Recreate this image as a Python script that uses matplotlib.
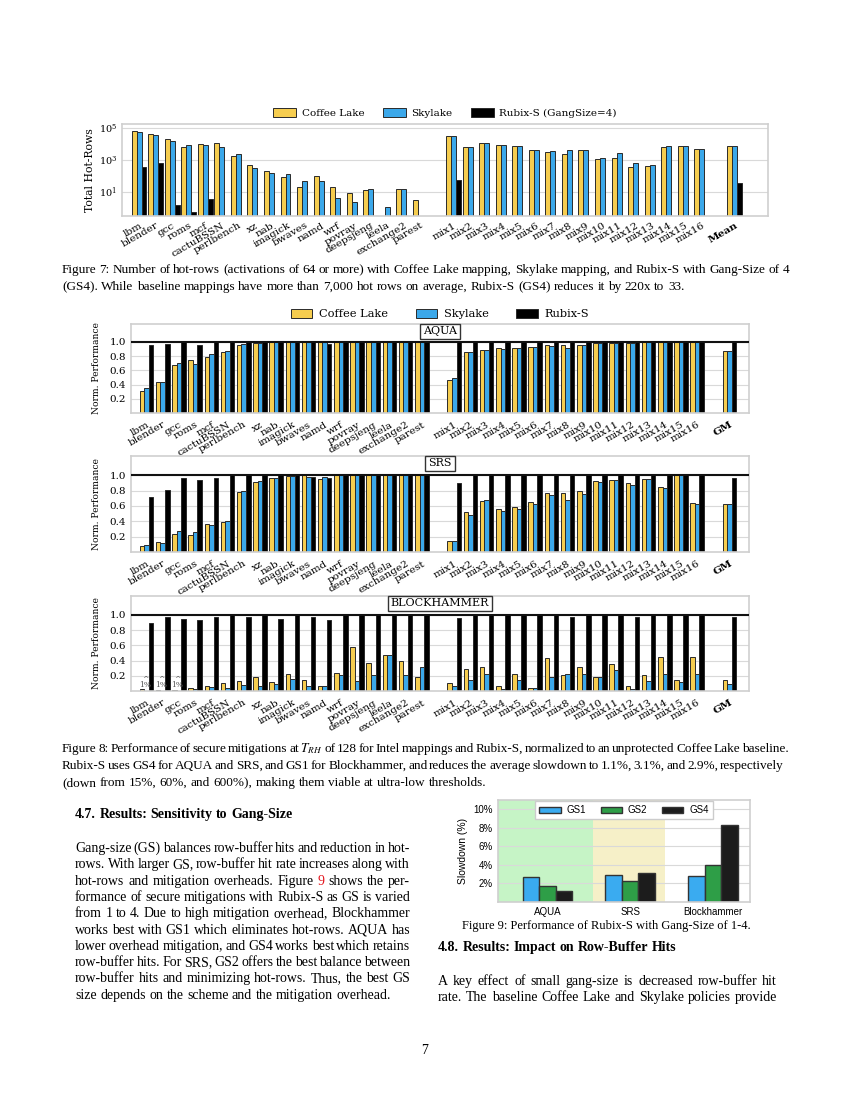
import matplotlib
matplotlib.use('Agg')

import matplotlib.pyplot as plt
import numpy as np

plt.rcParams['font.family'] = 'DejaVu Serif'
plt.rcParams['mathtext.fontset'] = 'stix'

W, H = 850, 1100

benches = ['lbm', 'blender', 'gcc', 'roms', 'mcf', 'cactuBSSN', 'perlbench', 'xz', 'nab',
           'imagick', 'bwaves', 'namd', 'wrf', 'povray', 'deepsjeng', 'leela', 'exchange2', 'parest']
mixes = ['mix%d' % i for i in range(1, 17)]

# Figure 7: total hot-rows (nan = no bar)
hot_cl = [60000, 43000, 20000, 6500, 9800, 11000, 1600, 480, 190, 85, 20, 100, 19, 8, 12, np.nan, 14, 3.1,
          33000, 6200, 11000, 8500, 7100, 3900, 3000, 2200, 3900, 1050, 1250, 330, 400, 6500, 7800, 4400,
          7400]
hot_sk = [55000, 38000, 16000, 9000, 9000, 5900, 2200, 320, 155, 135, 43, 45, 4.2, 2.2, 14.5, 1.0, 14, np.nan,
          30000, 6200, 11000, 8800, 7100, 4300, 3700, 4300, 4100, 1200, 2500, 580, 435, 7100, 7800, 4400,
          7100]
hot_rx = [360, 660, 1.35, 0.53, 3.5] + [np.nan] * 13 + [56] + [np.nan] * 15 + [33]

# Figure 8: normalized performance (benchmarks, mixes, GM)
aqua_cl = [0.31, 0.43, 0.67, 0.74, 0.79, 0.85, 0.96, 0.99, 1, 1, 1, 1, 1, 1, 1, 1, 1, 1,
           0.46, 0.85, 0.88, 0.91, 0.91, 0.93, 0.95, 0.95, 0.96, 0.99, 0.99, 0.99, 1, 1, 1, 1, 0.87]
aqua_sk = [0.35, 0.44, 0.70, 0.69, 0.83, 0.87, 0.97, 0.99, 1, 1, 1, 1, 1, 1, 1, 1, 1, 1,
           0.49, 0.85, 0.88, 0.90, 0.91, 0.92, 0.94, 0.91, 0.95, 0.99, 0.99, 0.98, 1, 1, 1, 1, 0.87]
aqua_rx = [0.95, 0.97, 1, 0.95, 1, 1, 1, 1, 1, 1, 1, 0.97, 1, 1, 1, 1, 1, 1,
           1, 1, 1, 1, 1, 1, 1, 1, 1, 1, 1, 1, 1, 1, 1, 1, 1.0]

srs_cl = [0.08, 0.13, 0.24, 0.22, 0.36, 0.39, 0.78, 0.91, 0.97, 0.99, 1.0, 0.95, 1, 1, 1, 1, 1, 1,
          0.14, 0.52, 0.67, 0.56, 0.59, 0.65, 0.77, 0.77, 0.79, 0.93, 0.94, 0.90, 0.95, 0.84, 1.0, 0.64, 0.62]
srs_sk = [0.09, 0.12, 0.27, 0.26, 0.35, 0.40, 0.79, 0.92, 0.97, 0.99, 0.98, 0.98, 1, 1, 1, 1, 1, 1,
          0.14, 0.48, 0.68, 0.53, 0.56, 0.62, 0.74, 0.68, 0.76, 0.91, 0.94, 0.87, 0.95, 0.83, 1.0, 0.63, 0.62]
srs_rx = [0.71, 0.81, 0.97, 0.94, 0.97, 1, 1, 1, 1, 1, 0.98, 0.96, 1, 1, 1, 1, 1, 1,
          0.90, 1, 1, 1, 1, 1, 1, 1, 1, 1, 1, 1, 1, 1, 1, 1, 0.97]

bh_cl = [0.02, 0.01, 0.01, 0.04, 0.07, 0.10, 0.13, 0.18, 0.12, 0.22, 0.14, 0.06, 0.24, 0.58, 0.37, 0.48, 0.40, 0.19,
         0.10, 0.29, 0.32, 0.07, 0.22, 0.04, 0.44, 0.21, 0.31, 0.19, 0.35, 0.06, 0.21, 0.45, 0.14, 0.45, 0.15]
bh_sk = [0.005, 0.005, 0.005, 0.03, 0.05, 0.04, 0.08, 0.07, 0.09, 0.16, 0.07, 0.07, 0.21, 0.13, 0.21, 0.48, 0.21, 0.31,
         0.06, 0.15, 0.22, 0.02, 0.15, 0.04, 0.19, 0.22, 0.23, 0.18, 0.28, 0.03, 0.13, 0.23, 0.12, 0.23, 0.09]
bh_rx = [0.90, 0.97, 0.95, 0.93, 0.97, 1, 0.97, 1, 0.95, 1, 0.97, 0.94, 1, 1, 1, 1, 1, 1,
         0.96, 1, 1, 1, 1, 1, 1, 0.97, 1, 1, 1, 0.97, 1, 1, 1, 1, 0.97]

# Figure 9: slowdown (%) per gang size
schemes = ['AQUA', 'SRS', 'Blockhammer']
gs1 = [2.65, 2.9, 2.8]
gs2 = [1.7, 2.3, 4.0]
gs4 = [1.15, 3.15, 8.3]

CL_COL = '#F6CD4F'
SK_COL = '#3BA8EA'
EDGE = '#2a2a2a'

pos = np.r_[np.arange(18), np.arange(19, 35), 36]

fig = plt.figure(figsize=(8.5, 11), dpi=100)


def box(l, r, t, b):
    return [l / W, 1 - b / H, (r - l) / W, (b - t) / H]


def style(ax):
    for s in ax.spines.values():
        s.set_color('#cfcfcf')
        s.set_linewidth(1.2)
    ax.grid(axis='y', color='#d9d9d9', lw=0.8)
    ax.grid(axis='x', visible=False)
    ax.set_axisbelow(True)
    ax.tick_params(length=0)


def bars(ax, series, w):
    offs = [-w, 0, w]
    for (vals, col, lab), off in zip(series, offs):
        v = np.array(vals, float)
        m = ~np.isnan(v)
        ax.bar(pos[m] + off, v[m], w, color=col, edgecolor=EDGE, lw=0.7, label=lab)


# ---------------- Figure 7 ----------------
ax = fig.add_axes(box(122, 768, 124, 216))
style(ax)
bars(ax, [(hot_cl, CL_COL, 'Coffee Lake'), (hot_sk, SK_COL, 'Skylake'),
          (hot_rx, 'black', 'Rubix-S (GangSize=4)')], 0.3)
ax.set_yscale('log')
ax.set_ylim(0.29, 1.75e5)
ax.set_yticks([10, 1e3, 1e5])
ax.minorticks_off()
ax.set_xlim(-1.03, 38)
ax.set_xticks(pos)
ax.set_xticklabels(benches + mixes + ['Mean'], rotation=30, ha='right', rotation_mode='anchor', fontsize=7.5)
ax.get_xticklabels()[-1].set_fontweight('bold')
ax.tick_params(axis='x', pad=3.5)
ax.tick_params(axis='y', labelsize=7)
ax.set_ylabel('Total Hot-Rows', fontsize=7.8, labelpad=3)
ax.legend(loc='center', bbox_to_anchor=(0.5, 1 + 11 / 92), ncol=3, frameon=False, fontsize=7.5,
          columnspacing=1.8, handlelength=2.2, handleheight=0.9, handletextpad=0.5)

# ---------------- Figure 8 ----------------
panels = [('AQUA', aqua_cl, aqua_sk, aqua_rx, 324, 413),
          ('SRS', srs_cl, srs_sk, srs_rx, 456, 552),
          ('BLOCKHAMMER', bh_cl, bh_sk, bh_rx, 596, 691)]
for k, (name, cl, sk, rx, top, bot) in enumerate(panels):
    ax = fig.add_axes(box(131, 749, top, bot))
    style(ax)
    bars(ax, [(cl, CL_COL, 'Coffee Lake'), (sk, SK_COL, 'Skylake'), (rx, 'black', 'Rubix-S')], 0.28)
    ax.axhline(1.0, color='#111111', lw=1.5, zorder=3)
    ax.set_ylim(0, 1.25)
    ax.set_yticks([0.2, 0.4, 0.6, 0.8, 1.0])
    ax.set_yticklabels(['0.2', '0.4', '0.6', '0.8', '1.0'], fontsize=7.5)
    ax.set_xlim(-0.96, 37.2)
    ax.set_xticks(pos)
    ax.set_xticklabels(benches + mixes + ['GM'], rotation=30, ha='right', rotation_mode='anchor', fontsize=7.5)
    ax.get_xticklabels()[-1].set_fontweight('bold')
    ax.tick_params(axis='x', pad=5)
    ax.set_ylabel('Norm. Performance', fontsize=6.6, labelpad=6)
    ax.text(0.5, 1 - 2.5 / (bot - top), name, transform=ax.transAxes, ha='center', va='top', fontsize=8,
            zorder=5, bbox=dict(boxstyle='square,pad=0.25', fc='white', ec='#333333', lw=1))
    if k == 0:
        ax.legend(loc='center', bbox_to_anchor=(0.5, 1 + 10 / 89), ncol=3, frameon=False, fontsize=8.2,
                  columnspacing=2.4, handlelength=1.9, handleheight=0.9, handletextpad=0.6)
    if name == 'BLOCKHAMMER':
        for i in range(3):
            ax.text(pos[i] - 0.1, 0.1, '^', ha='center', va='bottom', fontsize=5.5, color='#555555')
            ax.text(pos[i] - 0.1, 0.02, '1%', ha='center', va='bottom', fontsize=5.5, color='#555555')

# ---------------- Figure 9 ----------------
ax = fig.add_axes(box(498, 750, 800, 902))
style(ax)
ax.axvspan(-0.6, 0.55, color='#c6f4c6', zorder=0, lw=0)
ax.axvspan(0.55, 1.42, color='#f6f0c8', zorder=0, lw=0)
x9 = np.arange(len(schemes))
for vals, off, col, lab in [(gs1, -0.2, '#3AABF0', 'GS1'), (gs2, 0, '#2E9E47', 'GS2'), (gs4, 0.2, '#1c1c1c', 'GS4')]:
    ax.bar(x9 + off, vals, 0.2, color=col, edgecolor='#333333', lw=1, label=lab, zorder=2)
ax.set_xlim(-0.6, 2.45)
ax.set_ylim(0, 11)
ax.set_yticks([2, 4, 6, 8, 10])
ax.set_yticklabels(['2%', '4%', '6%', '8%', '10%'], fontsize=7, family='Liberation Sans')
ax.set_xticks(x9)
ax.set_xticklabels(schemes, fontsize=7, family='Liberation Sans')
ax.set_ylabel('Slowdown (%)', fontsize=7.5, family='Liberation Sans')
ax.legend(loc='upper center', ncol=3, prop={'family': 'Liberation Sans', 'size': 7},
          frameon=True, fancybox=False, edgecolor='#cccccc', framealpha=1,
          borderaxespad=0.15, columnspacing=1.5, handlelength=2.2, handletextpad=0.6)

# ---------------- page text ----------------
rend = fig.canvas.get_renderer()


def put_line(x0, x1, y, line, size=10, weight='normal', justify=True, colors=None):
    parts = line.split(' ')
    colors = colors or {}
    for _ in range(4):
        ts = [fig.text(0, 1 - y / H, p, fontsize=size, fontweight=weight, family='Liberation Serif',
                       va='baseline', color=colors.get(i, 'black')) for i, p in enumerate(parts)]
        ws = [t.get_window_extent(rend).width for t in ts]
        sp = size * 100 / 72 * 0.25
        if justify and len(ts) > 1:
            sp = (x1 - x0 - sum(ws)) / (len(ts) - 1)
        if sp >= size * 0.12 or not justify:
            break
        for t in ts:
            t.remove()
        size -= 0.2
    x = x0
    for t, w in zip(ts, ws):
        t.set_x(x / W)
        x += w + sp


cap7 = ['Figure 7: Number of hot-rows (activations of 64 or more) with Coffee Lake mapping, Skylake mapping, and Rubix-S with Gang-Size of 4',
        '(GS4). While baseline mappings have more than 7,000 hot rows on average, Rubix-S (GS4) reduces it by 220x to 33.']
put_line(62, 789, 273, cap7[0], size=9.5)
put_line(62, 789, 290, cap7[1], size=9.5, justify=False)

cap8 = ['Figure 8: Performance of secure mitigations at $T_{RH}$ of 128 for Intel mappings and Rubix-S, normalized to an unprotected Coffee Lake baseline.',
        'Rubix-S uses GS4 for AQUA and SRS, and GS1 for Blockhammer, and reduces the average slowdown to 1.1%, 3.1%, and 2.9%, respectively',
        '(down from 15%, 60%, and 600%), making them viable at ultra-low thresholds.']
put_line(62, 789, 752, cap8[0], size=9.5)
put_line(62, 784, 769, cap8[1], size=9.5)
put_line(62, 789, 786, cap8[2], size=9.5, justify=False)

put_line(75, 410, 818, '4.7. Results: Sensitivity to Gang-Size', size=10, weight='bold', justify=False)
para = ['Gang-size (GS) balances row-buffer hits and reduction in hot-',
        'rows. With larger GS, row-buffer hit rate increases along with',
        'hot-rows and mitigation overheads. Figure 9 shows the per-',
        'formance of secure mitigations with Rubix-S as GS is varied',
        'from 1 to 4. Due to high mitigation overhead, Blockhammer',
        'works best with GS1 which eliminates hot-rows. AQUA has',
        'lower overhead mitigation, and GS4 works best which retains',
        'row-buffer hits. For SRS, GS2 offers the best balance between',
        'row-buffer hits and minimizing hot-rows. Thus, the best GS',
        'size depends on the scheme and the mitigation overhead.']
for i, line in enumerate(para):
    put_line(75, 410, 852 + i * 16.3, line, size=10, justify=(i < len(para) - 1),
             colors={5: '#e3141c'} if i == 2 else None)

fig.text(606 / W, 1 - 929 / H, 'Figure 9: Performance of Rubix-S with Gang-Size of 1-4.', ha='center',
         va='baseline', fontsize=9, family='Liberation Serif')
put_line(438, 777, 951, '4.8. Results: Impact on Row-Buffer Hits', size=10, weight='bold', justify=False)
put_line(438, 777, 985, 'A key effect of small gang-size is decreased row-buffer hit', size=10)
put_line(438, 777, 1001, 'rate. The baseline Coffee Lake and Skylake policies provide', size=10)

fig.text(425 / W, 1 - 1054 / H, '7', ha='center', va='baseline', fontsize=10, family='Liberation Serif')

fig.savefig('out.png', dpi=100)
